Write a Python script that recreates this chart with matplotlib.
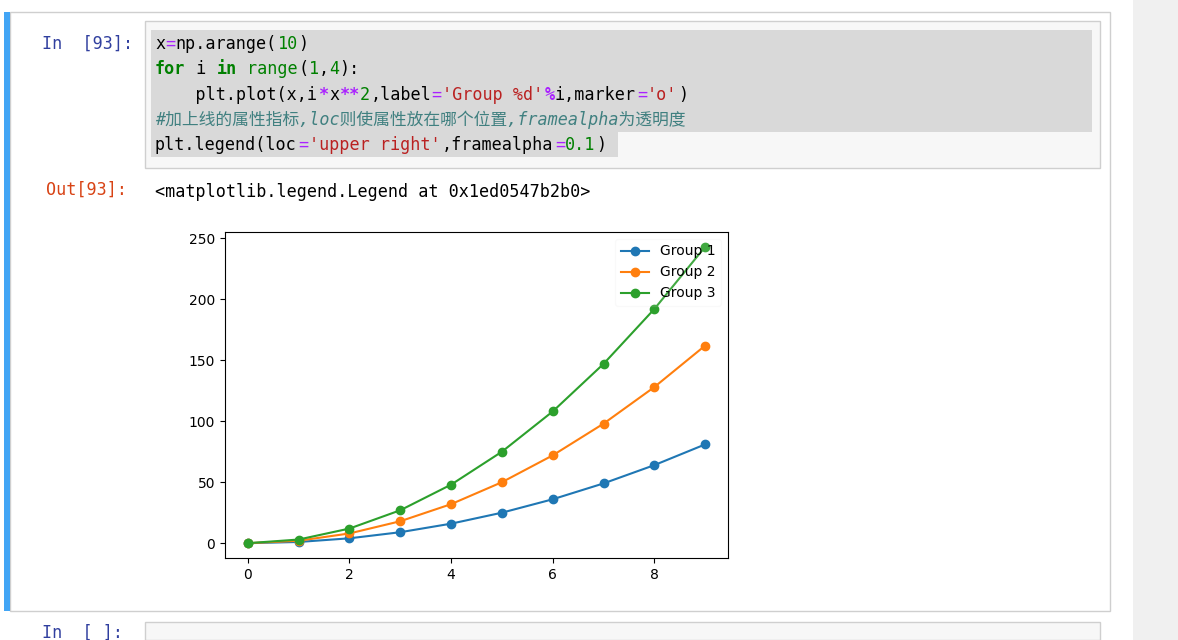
import numpy as np
import matplotlib.pyplot as plt
from matplotlib.patches import Rectangle

W, H = 1178, 640

x = [0, 1, 2, 3, 4, 5, 6, 7, 8, 9]
group1 = [0, 1, 4, 9, 16, 25, 36, 49, 64, 81]
group2 = [0, 2, 8, 18, 32, 50, 72, 98, 128, 162]
group3 = [0, 3, 12, 27, 48, 75, 108, 147, 192, 243]
labels = ['Group 1', 'Group 2', 'Group 3']

fig = plt.figure(figsize=(W / 100, H / 100), dpi=100)
fig.patch.set_facecolor('white')


def px_rect(x0, y0, x1, y1, **kw):
    # rectangle in pixel coords, y measured from the top; kept behind the axes
    fig.patches.append(Rectangle((x0 / W, 1 - y1 / H), (x1 - x0) / W, (y1 - y0) / H,
                                 transform=fig.transFigure, zorder=-5, **kw))


def px_text(xp, yp, s, **kw):
    fig.text(xp / W, 1 - yp / H, s, va='center', ha='left', **kw)


# notebook frame
px_rect(1133, 0, 1178, 640, facecolor='#f0f0f0', edgecolor='none')
px_rect(10, 12, 1110, 611, facecolor='white', edgecolor='#cfcfcf', lw=1)
px_rect(4, 12, 10, 611, facecolor='#42a5f5', edgecolor='none')
px_rect(145, 21, 1100, 168, facecolor='#f7f7f7', edgecolor='#cfcfcf', lw=1)
px_rect(151, 30, 1092, 132, facecolor='#d9d9d9', edgecolor='none')
px_rect(151, 132, 618, 157, facecolor='#d9d9d9', edgecolor='none')
px_rect(145, 622, 1100, 640, facecolor='#f7f7f7', edgecolor='#cfcfcf', lw=1)

mono = ['DejaVu Sans Mono', 'Noto Sans CJK SC']
fs = 12.1
cw = 10.25
px_text(42, 44, 'In  [93]:', color='#303F9F', family=mono, fontsize=fs)
px_text(46, 190, 'Out[93]:', color='#D84315', family=mono, fontsize=fs)
px_text(42, 633, 'In  [ ]:', color='#303F9F', family=mono, fontsize=fs)
px_text(155, 192, '<matplotlib.legend.Legend at 0x1ed0547b2b0>', color='black',
        family=mono, fontsize=fs)

K, P, G, S, N = 'black', '#AA22FF', '#008000', '#BA2121', '#008000'
lines = [
    (44, [('x', K), ('=', P), ('np.arange(', K), ('10', N), (')', K)]),
    (69, [('for', G, 'bold'), (' i ', K), ('in', G, 'bold'), (' ', K), ('range', G),
          ('(', K), ('1', N), (',', K), ('4', N), ('):', K)]),
    (95, [('    plt.plot(x,i', K), ('*', P, 'bold'), ('x', K), ('**', P, 'bold'), ('2', N),
          (',label', K), ('=', P), ("'Group %d'", S), ('%', P, 'bold'), ('i,marker', K),
          ('=', P), ("'o'", S), (')', K)]),
    (145, [('plt.legend(loc', K), ('=', P), ("'upper right'", S), (',framealpha', K),
           ('=', P), ('0.1', N), (')', K)]),
]
for yp, segs in lines:
    col = 0
    for seg in segs:
        s, c = seg[0], seg[1]
        w = seg[2] if len(seg) > 2 else 'normal'
        px_text(155 + col * cw, yp, s, color=c, family=mono, fontsize=fs, fontweight=w)
        col += len(s)
px_text(155, 120, '#加上线的属性指标,loc则使属性放在哪个位置,framealpha为透明度',
        color='#408080', family=mono, fontsize=fs, style='italic')

# the chart itself
ax = fig.add_axes([225 / W, 1 - 558 / H, 503 / W, 326 / H])
for ys, lab in zip([group1, group2, group3], labels):
    ax.plot(x, ys, label=lab, marker='o')
ax.legend(loc='upper right', framealpha=0.1)

fig.savefig('out.png', dpi=100)
